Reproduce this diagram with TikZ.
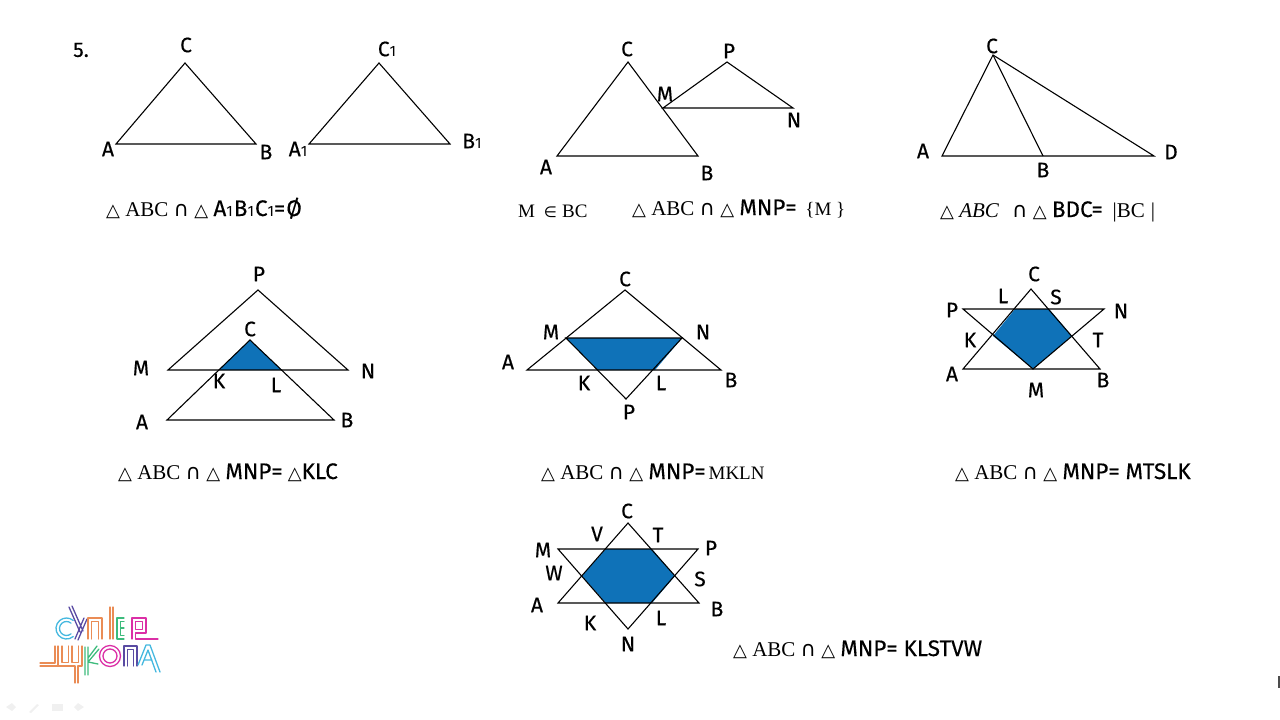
\documentclass[tikz,border=0pt]{standalone}
\usepackage{fontspec}
\setmainfont{Liberation Serif}
\setsansfont{Fira Sans}[UprightFeatures={FakeBold=0.3}]
\newfontfamily\symfont{DejaVu Sans}
\newfontfamily\plainsans{Fira Sans}
\newcommand{\tri}{{\symfont\fontsize{18}{15}\selectfont △}}
\newcommand{\capsym}{{\symfont\fontsize{21}{15}\selectfont ∩}}
\newcommand{\low}[1]{{\plainsans\fontsize{15}{16}\selectfont #1}}
\newcommand{\sans}[1]{{\sffamily\fontsize{22.5}{22}\selectfont #1}}
\newcommand{\thinner}[1]{{\fontsize{19}{22}\selectfont #1}}
\definecolor{fillblue}{HTML}{0F72B8}
\definecolor{logocyan}{HTML}{45B8DF}
\definecolor{logopurple}{HTML}{5A4BA3}
\definecolor{logoorange}{HTML}{EA8C55}
\definecolor{logogreen}{HTML}{3DBB7C}
\definecolor{logopink}{HTML}{DB2FA6}
\tikzset{
  figline/.style={draw=black, line width=1.1pt, line join=miter},
  region/.style={fill=fillblue, draw=none},
  lab/.style={font=\sffamily\fontsize{21}{22}\selectfont, inner sep=0pt, text=black},
  formula/.style={font=\fontsize{21}{22}\selectfont, inner sep=0pt, anchor=base west, text=black},
  logoline/.style={line width=1.3pt, line cap=round, line join=round},
  toolicon/.style={fill=black!6, draw=none},
}
\begin{document}
\begin{tikzpicture}[x=1pt, y=-1pt]
  \useasboundingbox (0,0) rectangle (1280,720);

  % first row, left
  \coordinate (a1) at (116,144); \coordinate (b1) at (256,144); \coordinate (c1) at (185,63);
  \coordinate (a2) at (309,144); \coordinate (b2) at (450,144); \coordinate (c2) at (379,63);
  \draw[figline] (a1) -- (b1) -- (c1) -- cycle;
  \draw[figline] (a2) -- (b2) -- (c2) -- cycle;
  \node[lab] (num) at (81,50) {5.};
  \node[lab] (la1) at (108,149) {A};
  \node[lab] (lb1) at (266,152) {B};
  \node[lab] (lc1) at (186,45) {C};
  \node[lab] (la2) at (298,149) {A\low{1}};
  \node[lab] (lb2) at (472,141) {B\low{1}};
  \node[lab] (lc2) at (387,49) {C\low{1}};
  \node[formula] (f1) at (106,216) {\tri\ ABC \capsym\ \tri\ \sans{A\low{1}\kern1pt B\low{1}\kern1pt C\low{1}=\kern1pt Ø}};

  % first row, middle
  \coordinate (a3) at (557,156); \coordinate (b3) at (698,156); \coordinate (c3) at (628,62);
  \coordinate (m3) at (663,108); \coordinate (n3) at (793,108); \coordinate (p3) at (727,62);
  \draw[figline] (a3) -- (b3) -- (c3) -- cycle;
  \draw[figline] (m3) -- (n3) -- (p3) -- cycle;
  \node[lab] (la3) at (546,167) {A};
  \node[lab] (lb3) at (707,173) {B};
  \node[lab] (lc3) at (627,49) {C};
  \node[lab] (lm3) at (665,94) {M};
  \node[lab] (ln3) at (794,120) {N};
  \node[lab] (lp3) at (729,51) {P};
  \node[formula] (f2a) at (518,217) {\thinner{M} \,{\symfont\fontsize{15}{15}\selectfont ∈} \thinner{BC}};
  \node[formula] (f2b) at (632,215) {\tri\ ABC \capsym\ \tri\ \sans{MNP=}\, \thinner{\{M \}}};

  % first row, right
  \coordinate (a4) at (942,156); \coordinate (b4) at (1043,156); \coordinate (c4) at (993,55);
  \coordinate (d4) at (1154,156);
  \draw[figline] (a4) -- (d4) -- (c4) -- cycle;
  \draw[figline] (c4) -- (b4);
  \node[lab] (la4) at (923,151) {A};
  \node[lab] (lb4) at (1043,170) {B};
  \node[lab] (lc4) at (992,46) {C};
  \node[lab] (ld4) at (1171,152) {D};
  \node[formula] (f3) at (940,217) {\tri\ \textit{ABC}\kern13pt\capsym\ \tri\ \sans{BDC=}\kern10pt|BC\kern6pt|};

  % second row, left
  \coordinate (a5) at (167,420); \coordinate (b5) at (334,420); \coordinate (c5) at (250,340);
  \coordinate (m5) at (168,370); \coordinate (n5) at (348,370); \coordinate (p5) at (258,290);
  \coordinate (k5) at (219,370); \coordinate (l5) at (282,370);
  \fill[region] (k5) -- (l5) -- (c5) -- cycle;
  \draw[figline] (a5) -- (b5) -- (c5) -- cycle;
  \draw[figline] (m5) -- (n5) -- (p5) -- cycle;
  \node[lab] (la5) at (142,422) {A};
  \node[lab] (lb5) at (347,420) {B};
  \node[lab] (lc5) at (250,329) {C};
  \node[lab] (lm5) at (141,368) {M};
  \node[lab] (ln5) at (368,371) {N};
  \node[lab] (lp5) at (259,274) {P};
  \node[lab] (lk5) at (219,381) {K};
  \node[lab] (ll5) at (276,385) {L};
  \node[formula] (f4) at (118,479) {\tri\ ABC \capsym\ \tri\ \sans{MNP=} \tri\sans{KLC}};

  % second row, middle
  \coordinate (a6) at (527,370); \coordinate (b6) at (721,370); \coordinate (c6) at (625,290);
  \coordinate (m6) at (566,338); \coordinate (n6) at (682,338); \coordinate (p6) at (626,399);
  \coordinate (k6) at (598,370); \coordinate (l6) at (655,370);
  \fill[region] (m6) -- (n6) -- (l6) -- (k6) -- cycle;
  \draw[figline] (a6) -- (b6) -- (c6) -- cycle;
  \draw[figline] (m6) -- (n6) -- (p6) -- cycle;
  \node[lab] (la6) at (508,362) {A};
  \node[lab] (lb6) at (731,380) {B};
  \node[lab] (lc6) at (625,279) {C};
  \node[lab] (lm6) at (551,332) {M};
  \node[lab] (ln6) at (703,332) {N};
  \node[lab] (lp6) at (629,412) {P};
  \node[lab] (lk6) at (584,383) {K};
  \node[lab] (ll6) at (661,383) {L};
  \node[formula] (f5) at (541,479) {\tri\ ABC \capsym\ \tri\ \sans{MNP=}\kern3pt\thinner{MKLN}};

  % second row, right
  \coordinate (a7) at (963,369); \coordinate (b7) at (1100,369); \coordinate (c7) at (1031,289);
  \coordinate (p7) at (963,309); \coordinate (n7) at (1104,309); \coordinate (m7) at (1033,369);
  \coordinate (k7) at (993,336); \coordinate (l7) at (1015,309);
  \coordinate (s7) at (1049,309); \coordinate (t7) at (1072,336);
  \fill[region] (m7) -- (t7) -- (s7) -- (l7) -- (k7) -- cycle;
  \draw[figline] (a7) -- (b7) -- (c7) -- cycle;
  \draw[figline] (p7) -- (n7) -- (m7) -- cycle;
  \node[lab] (la7) at (952,374) {A};
  \node[lab] (lb7) at (1103,380) {B};
  \node[lab] (lc7) at (1034,274) {C};
  \node[lab] (lp7) at (952,310) {P};
  \node[lab] (ln7) at (1121,311) {N};
  \node[lab] (lm7) at (1036,390) {M};
  \node[lab] (lk7) at (970,340) {K};
  \node[lab] (ll7) at (1003,296) {L};
  \node[lab] (ls7) at (1056,297) {S};
  \node[lab] (lt7) at (1098,340) {T};
  \node[formula] (f6) at (955,479) {\tri\ ABC \capsym\ \tri\ \sans{MNP= MTSLK}};

  % third row
  \coordinate (a8) at (558,603); \coordinate (b8) at (699,603); \coordinate (c8) at (628,523);
  \coordinate (m8) at (558,549); \coordinate (p8) at (698,549); \coordinate (n8) at (628,629);
  \coordinate (k8) at (606,603); \coordinate (l8) at (652,603); \coordinate (s8) at (675,576);
  \coordinate (t8) at (652,549); \coordinate (v8) at (606,549); \coordinate (w8) at (582,576);
  \fill[region] (k8) -- (l8) -- (s8) -- (t8) -- (v8) -- (w8) -- cycle;
  \draw[figline] (a8) -- (b8) -- (c8) -- cycle;
  \draw[figline] (m8) -- (p8) -- (n8) -- cycle;
  \node[lab] (la8) at (537,605) {A};
  \node[lab] (lb8) at (717,609) {B};
  \node[lab] (lc8) at (627,511) {C};
  \node[lab] (lm8) at (543,550) {M};
  \node[lab] (lp8) at (711,548) {P};
  \node[lab] (ln8) at (628,644) {N};
  \node[lab] (lk8) at (590,623) {K};
  \node[lab] (ll8) at (661,618) {L};
  \node[lab] (ls8) at (700,579) {S};
  \node[lab] (lt8) at (658,535) {T};
  \node[lab] (lv8) at (597,534) {V};
  \node[lab] (lw8) at (554,573) {W};
  \node[formula] (f7) at (733,656) {\tri\ ABC \capsym\ \tri\ \sans{MNP= KLSTVW}};

  % logo, upper word
  \foreach \r in {10.5,7}
    \draw[logoline, draw=logocyan] (66.5,628.5) ++(50:\r) arc[start angle=50, end angle=310, radius=\r];
  \draw[logoline, draw=logopurple] (69,607) -- (80,632) (72,606) -- (83,631)
    (84,618) -- (75,639) (87,619) -- (78,640);
  \draw[logoline, draw=logoorange] (88,639) -- (88,618) -- (102,618) -- (102,639)
    (91.5,639) -- (91.5,621.5) -- (98.5,621.5) -- (98.5,639)
    (110,607) -- (110,639) (113,607) -- (113,639);
  \draw[logoline, draw=logogreen] (124,618) -- (117,618) -- (117,639) -- (124,639)
    (124,621.5) -- (120.5,621.5) -- (120.5,635.5) -- (124,635.5) (120.5,628) -- (124,628);
  \draw[logoline, draw=logopink] (132,639) -- (132,618) -- (146,618) -- (146,633) -- (135.5,633) -- (135.5,639) -- (158,639)
    (135.5,621.5) -- (142.5,621.5) -- (142.5,629.5) -- (135.5,629.5) -- cycle;
  % logo, lower word
  \draw[logoline, draw=logoorange] (40,663) -- (55,663) -- (55,646)
    (40,666) -- (58,666) -- (58,646)
    (58,666) -- (75,666) -- (75,683) (78,683) -- (78,666) -- (82,666) -- (82,646)
    (62,646) -- (62,662.5) -- (68.5,662.5) -- (68.5,646)
    (72,646) -- (72,662.5) -- (78.5,662.5) -- (78.5,646);
  \draw[logoline, draw=logogreen] (85,647) -- (85,675) (88,647) -- (88,675)
    (88,658) -- (97,646) (88,662) -- (99,649) (88,662) -- (98,664);
  \foreach \r in {10.5,7}
    \draw[logoline, draw=logopink] (110,656) circle[radius=\r];
  \draw[logoline, draw=logopurple] (124,666) -- (124,646) -- (137,646) -- (137,666)
    (127.5,666) -- (127.5,649.5) -- (133.5,649.5) -- (133.5,666);
  \draw[logoline, draw=logocyan] (138,665) -- (146,645) -- (150,645) -- (160,672)
    (142,665) -- (148,650) -- (156,672) (144,660) -- (152,660);

  % toolbar
  \fill[toolicon] (6,707) -- (12,703) -- (16,707) -- (12,711) -- cycle;
  \fill[toolicon] (29,712) -- (37,704) -- (39,705) -- (31,713) -- cycle;
  \fill[toolicon] (52,704) rectangle (63,711);
  \fill[toolicon] (84,707) -- (78,703) -- (74,707) -- (78,711) -- cycle;
  % mark at the right edge
  \fill[black!70] (1278,676) rectangle (1280,688);
\end{tikzpicture}
\end{document}
